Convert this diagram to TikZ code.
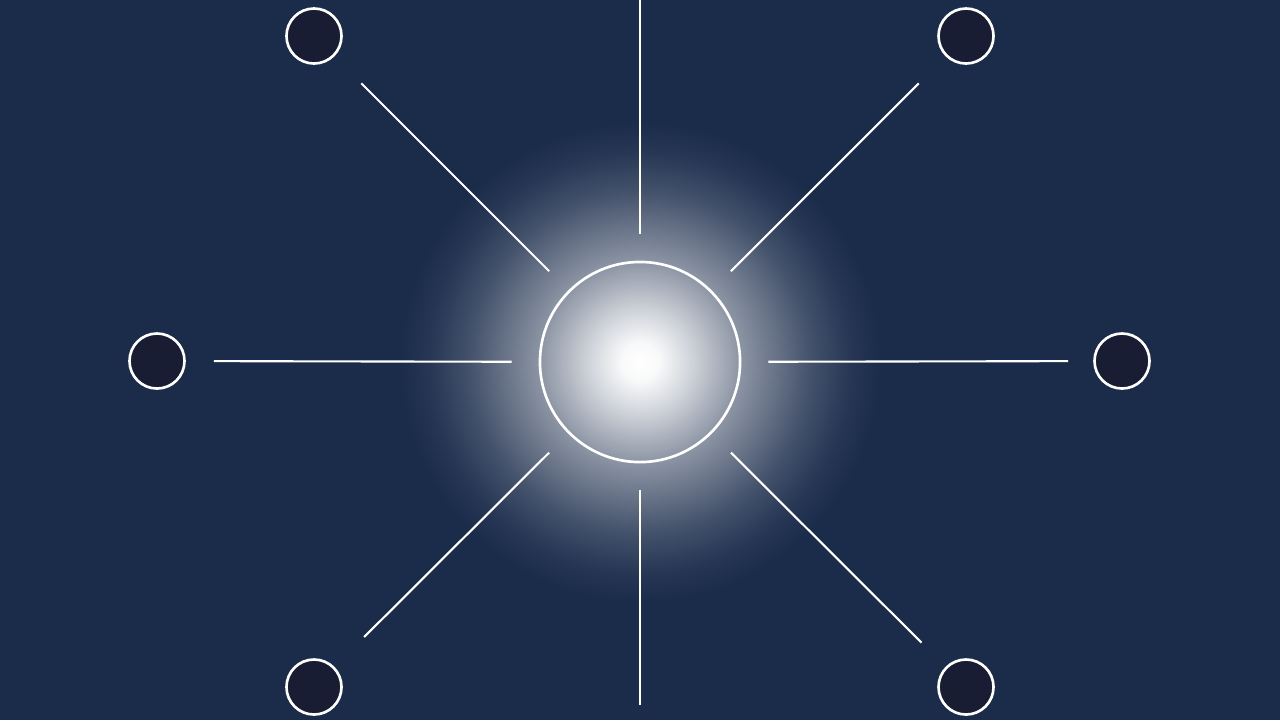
\documentclass[tikz,border=0pt]{standalone}
\usetikzlibrary{positioning}
\definecolor{navybg}{HTML}{1B2C4B}
\definecolor{satfill}{HTML}{181D33}
\pgfdeclareradialshading{hubglow}{\pgfpoint{0bp}{0bp}}{color(0bp)=(white); color(2bp)=(white!97!navybg); color(5.2bp)=(white!80!navybg); color(10.4bp)=(white!50!navybg); color(17.7bp)=(white!18!navybg); color(21.9bp)=(white!5!navybg); color(25bp)=(navybg); color(50bp)=(navybg)}
\begin{document}
\begin{tikzpicture}[x=0.01cm,y=-0.01cm,
    spoke/.style={white, line width=0.6pt, shorten <=0.27cm},
    hub/.style={circle, draw=white, line width=0.75pt, minimum size=2cm, inner sep=0pt},
    sat/.style={circle, draw=white, fill=satfill, line width=0.75pt, minimum size=0.55cm, inner sep=0pt}]
    % Background
    \fill[navybg] (0,0) rectangle (1280,720);
    \useasboundingbox (0,0) rectangle (1280,720);

    % Glow around the hub
    \shade[shading=hubglow] (640,362) circle (240);

    % Hub and outer circles
    \node[hub] (hub) at (640,362) {};
    \node[sat] (tl) at (314,36) {};
    \node[sat] (tr) at (966,36) {};
    \node[sat] (ml) at (157,361) {};
    \node[sat] (mr) at (1122,361) {};
    \node[sat] (bl) at (314,687) {};
    \node[sat] (br) at (966,687) {};
    \coordinate (top) at (640,0);
    \coordinate (bottom) at (640,705);

    % Spokes
    \foreach \s/\g in {tl/0.38cm, tr/0.38cm, ml/0.28cm, mr/0.25cm, bl/0.42cm, br/0.34cm}
        \draw[spoke, shorten >=\g] (hub) -- (\s);
    \draw[spoke] (hub) -- (top);
    \draw[spoke] (hub) -- (bottom);
\end{tikzpicture}
\end{document}
